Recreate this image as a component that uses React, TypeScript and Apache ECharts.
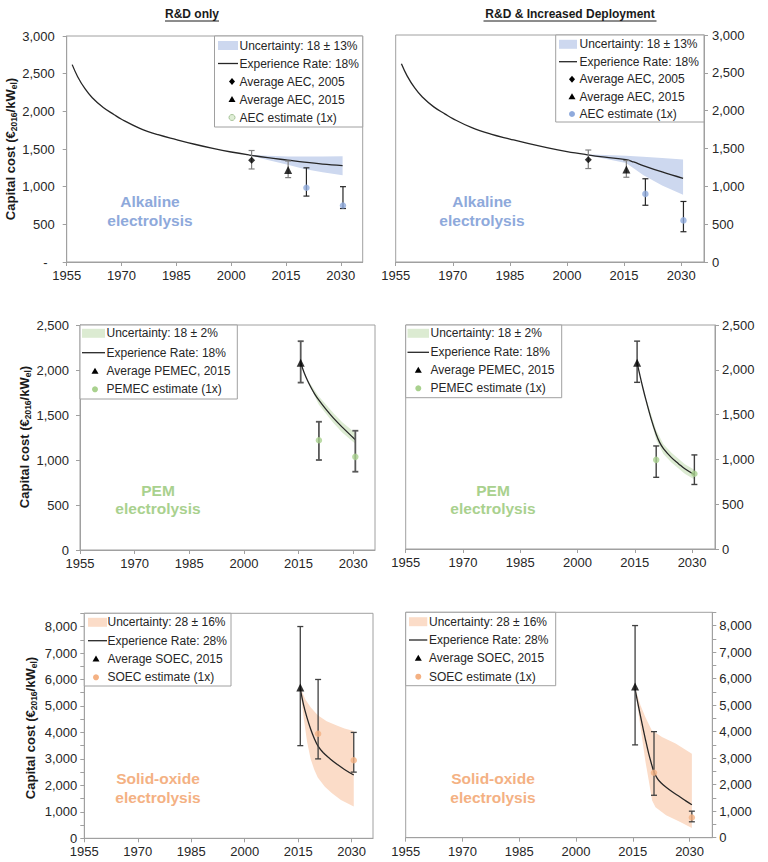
import React, { useEffect, useRef } from "react";
import * as echarts from "echarts";

// ---------- DATA ----------
const xTicks = [1955, 1970, 1985, 2000, 2015, 2030];

// Alkaline, R&D only
const aecRdCurve = [[1956.5, 2620], [1958, 2460], [1960, 2300], [1962, 2180], [1965, 2050], [1968, 1955], [1970, 1895], [1975, 1775], [1980, 1690], [1985, 1625], [1990, 1563], [1995, 1508], [2000, 1460], [2005, 1420], [2010, 1385], [2015.5, 1352], [2020, 1325], [2025, 1300], [2030.5, 1280]];
const aecRdBandUpper = [[2005, 1425], [2010, 1410], [2015.5, 1400], [2020, 1400], [2025, 1400], [2030.5, 1405]];
const aecRdBandLower = [[2005, 1415], [2010, 1355], [2015.5, 1290], [2020, 1235], [2025, 1190], [2030.5, 1150]];
const aecAvg2005 = [[2005.6, 1350]];
const aecAvg2005Err = [[2005.6, 1235, 1480]];
const aecAvg2015 = [[2015.6, 1222]];
const aecAvg2015Err = [[2015.6, 1120, 1340]];
const aecRdEstimate = [[2020.6, 985], [2030.6, 750]];
const aecRdEstimateErr = [[2020.6, 875, 1250], [2030.6, 710, 1000]];

// Alkaline, R&D & increased deployment
const aecDepCurve = [[1956.5, 2620], [1958, 2460], [1960, 2300], [1962, 2180], [1965, 2050], [1968, 1955], [1970, 1895], [1975, 1775], [1980, 1690], [1985, 1625], [1990, 1563], [1995, 1508], [2000, 1460], [2005, 1420], [2010, 1385], [2015.5, 1352], [2017.5, 1322], [2020, 1275], [2025, 1190], [2030.5, 1105]];
const aecDepBandUpper = [[2005, 1425], [2010, 1415], [2015.5, 1405], [2020, 1392], [2025, 1373], [2030.5, 1355]];
const aecDepBandLower = [[2005, 1415], [2010, 1365], [2015.5, 1310], [2017.5, 1240], [2020, 1150], [2025, 1010], [2030.5, 890]];
const aecDepEstimate = [[2020.6, 900], [2030.6, 550]];
const aecDepEstimateErr = [[2020.6, 750, 1100], [2030.6, 400, 800]];

// PEM, R&D only
const pemRdCurve = [[2015.6, 2080], [2016.5, 1975], [2017.5, 1880], [2018.5, 1800], [2019.5, 1730], [2020.6, 1665], [2022.5, 1565], [2024.6, 1465], [2027, 1365], [2030.6, 1225]];
const pemRdBandUpper = [[2017.5, 1890], [2020.6, 1705], [2024.6, 1520], [2027, 1420], [2030.6, 1300]];
const pemRdBandLower = [[2017.5, 1870], [2020.6, 1615], [2024.6, 1410], [2027, 1305], [2030.6, 1180]];
const pemAvg2015 = [[2015.6, 2080]];
const pemAvg2015Err = [[2015.6, 1860, 2320]];
const pemRdEstimate = [[2020.6, 1220], [2030.6, 1035]];
const pemRdEstimateErr = [[2020.6, 1000, 1425], [2030.6, 870, 1325]];

// PEM, R&D & increased deployment
const pemDepCurve = [[2015.6, 2080], [2016.3, 1945], [2017.1, 1800], [2018, 1650], [2019.3, 1450], [2020.6, 1280], [2021.5, 1190], [2022.5, 1120], [2024.6, 1020], [2026.5, 950], [2028.1, 895], [2030.6, 830]];
const pemDepBandUpper = [[2018, 1670], [2020.6, 1325], [2022.5, 1170], [2024.6, 1075], [2028.1, 945], [2030.6, 885]];
const pemDepBandLower = [[2018, 1630], [2020.6, 1220], [2022.5, 1060], [2024.6, 965], [2028.1, 840], [2030.6, 775]];
const pemDepEstimate = [[2020.6, 995], [2030.6, 840]];
const pemDepEstimateErr = [[2020.6, 800, 1150], [2030.6, 720, 1050]];

// SOEC, R&D only
const soecRdCurve = [[2015.6, 5650], [2016.5, 5050], [2017.5, 4550], [2018.5, 4130], [2019.5, 3780], [2020.5, 3500], [2022, 3240], [2024, 3000], [2026, 2790], [2028, 2600], [2030.6, 2390]];
const soecRdBandUpper = [[2015.6, 5700], [2017, 5250], [2018.5, 4950], [2020.5, 4650], [2023, 4420], [2026, 4250], [2028, 4150], [2030.6, 4050]];
const soecRdBandLower = [[2015.6, 5600], [2016.5, 4600], [2017.5, 3650], [2018.5, 3000], [2019.5, 2600], [2020.5, 2300], [2022.5, 1950], [2024.5, 1700], [2027, 1450], [2030.6, 1200]];
const soecAvg2015 = [[2015.6, 5700]];
const soecAvg2015Err = [[2015.6, 3500, 8000]];
const soecRdEstimate = [[2020.6, 3950], [2030.6, 2950]];
const soecRdEstimateErr = [[2020.6, 3000, 6000], [2030.6, 2500, 4000]];

// SOEC, R&D & increased deployment
const soecDepCurve = [[2015.6, 5600], [2016.5, 4950], [2017.4, 4330], [2018.3, 3730], [2019.2, 3170], [2020.1, 2700], [2020.6, 2480], [2021.5, 2230], [2022.5, 2060], [2023.8, 1900], [2025.5, 1720], [2027.4, 1545], [2029, 1390], [2030.6, 1240]];
const soecDepBandUpper = [[2015.6, 5650], [2017, 5000], [2018.3, 4550], [2020, 4050], [2022.7, 3800], [2026.3, 3550], [2030.6, 3170]];
const soecDepBandLower = [[2015.6, 5550], [2016, 5200], [2017.4, 3800], [2018.3, 2900], [2019.2, 2170], [2020.1, 1400], [2021, 1150], [2023.8, 850], [2027.4, 600], [2030.6, 370]];
const soecDepEstimate = [[2020.6, 2450], [2030.6, 760]];
const soecDepEstimateErr = [[2020.6, 1600, 4000], [2030.6, 600, 1000]];

// Texts
const panelTitles = ["R&D only", "R&D & Increased Deployment"];
const aecLegend = ["Uncertainty: 18 ± 13%", "Experience Rate: 18%", "Average AEC, 2005", "Average AEC, 2015", "AEC estimate (1x)"];
const pemLegend = ["Uncertainty: 18 ± 2%", "Experience Rate: 18%", "Average PEMEC, 2015", "PEMEC estimate (1x)"];
const soecLegend = ["Uncertainty: 28 ± 16%", "Experience Rate: 28%", "Average SOEC, 2015", "SOEC estimate (1x)"];
const techAec = ["Alkaline", "electrolysis"];
const techPem = ["PEM", "electrolysis"];
const techSoec = ["Solid-oxide", "electrolysis"];

// ---------- STYLE ----------
const FONT = "'Liberation Sans', Arial, sans-serif";
const AXIS_COLOR = "#a0a0a0";
const TEXT_COLOR = "#262626";
const BLUE_BAND = "#cdd8ef";
const BLUE_PT = "#8faadc";
const BLUE_TXT = "#8ea9db";
const GREEN_BAND = "#dcebd2";
const GREEN_PT = "#a9d18e";
const GREEN_TXT = "#a9d18e";
const ORANGE_BAND = "#fbdcc8";
const ORANGE_PT = "#f4b183";
const ORANGE_TXT = "#f4b183";

const fmtNum = (v: number) => v.toString().replace(/\B(?=(\d{3})+(?!\d))/g, ",");

const panels: any[] = [
  {
    grid: { left: 66.7, top: 36, width: 296, height: 226 }, yMax: 3000, yInt: 500, yMajor: 500, yPos: "left", margin: 12, dashZero: true,
    curve: aecRdCurve, upper: aecRdBandUpper, lower: aecRdBandLower, band: BLUE_BAND,
    avg: [{ pts: aecAvg2005, err: aecAvg2005Err, symbol: "diamond", size: 7 }, { pts: aecAvg2015, err: aecAvg2015Err, symbol: "triangle", size: 8 }],
    avgErrColor: "#808080", est: aecRdEstimate, estErr: aecRdEstimateErr, estColor: BLUE_PT, estErrColor: "#262626", errW: 1.2,
  },
  {
    grid: { left: 395.7, top: 35, width: 308.3, height: 227 }, yMax: 3000, yInt: 500, yMajor: 500, yPos: "right", margin: 8, dashZero: false,
    curve: aecDepCurve, upper: aecDepBandUpper, lower: aecDepBandLower, band: BLUE_BAND,
    avg: [{ pts: aecAvg2005, err: aecAvg2005Err, symbol: "diamond", size: 7 }, { pts: aecAvg2015, err: aecAvg2015Err, symbol: "triangle", size: 8 }],
    avgErrColor: "#808080", est: aecDepEstimate, estErr: aecDepEstimateErr, estColor: BLUE_PT, estErrColor: "#262626", errW: 1.2,
  },
  {
    grid: { left: 80, top: 325, width: 295, height: 225 }, yMax: 2500, yInt: 500, yMajor: 500, yPos: "left", margin: 11, dashZero: false,
    curve: pemRdCurve, upper: pemRdBandUpper, lower: pemRdBandLower, band: GREEN_BAND,
    avg: [{ pts: pemAvg2015, err: pemAvg2015Err, symbol: "triangle", size: 8 }],
    avgErrColor: "#595959", est: pemRdEstimate, estErr: pemRdEstimateErr, estColor: GREEN_PT, estErrColor: "#595959", errW: 1.8,
  },
  {
    grid: { left: 405.7, top: 325, width: 309.3, height: 224 }, yMax: 2500, yInt: 500, yMajor: 500, yPos: "right", margin: 7, dashZero: false,
    curve: pemDepCurve, upper: pemDepBandUpper, lower: pemDepBandLower, band: GREEN_BAND,
    avg: [{ pts: pemAvg2015, err: pemAvg2015Err, symbol: "triangle", size: 8 }],
    avgErrColor: "#404040", est: pemDepEstimate, estErr: pemDepEstimateErr, estColor: GREEN_PT, estErrColor: "#404040", errW: 1.4,
  },
  {
    grid: { left: 84.3, top: 613.3, width: 288.7, height: 225 }, yMax: 8500, yInt: 500, yMajor: 1000, yPos: "left", margin: 7, dashZero: false,
    curve: soecRdCurve, upper: soecRdBandUpper, lower: soecRdBandLower, band: ORANGE_BAND,
    avg: [{ pts: soecAvg2015, err: soecAvg2015Err, symbol: "triangle", size: 8 }],
    avgErrColor: "#404040", est: soecRdEstimate, estErr: soecRdEstimateErr, estColor: ORANGE_PT, estErrColor: "#404040", errW: 1.3,
  },
  {
    grid: { left: 405.7, top: 612.3, width: 306.6, height: 225.4 }, yMax: 8500, yInt: 500, yMajor: 1000, yPos: "right", margin: 7, dashZero: false,
    curve: soecDepCurve, upper: soecDepBandUpper, lower: soecDepBandLower, band: ORANGE_BAND,
    avg: [{ pts: soecAvg2015, err: soecAvg2015Err, symbol: "triangle", size: 8 }],
    avgErrColor: "#404040", est: soecDepEstimate, estErr: soecDepEstimateErr, estColor: ORANGE_PT, estErrColor: "#404040", errW: 1.3,
  },
];

const legends: any[] = [
  { box: [214.5, 36, 362.7, 127], rows: [45.5, 63.5, 81.5, 99.5, 117.5], sw: [218, 238], mx: 232, tx: 239.5, texts: aecLegend,
    kinds: ["band", "line", "diamond", "triangle", "hollow"], band: BLUE_BAND, pt: GREEN_PT },
  { box: [555.7, 35, 704, 122], rows: [44.3, 61.7, 79.3, 96.7, 114], sw: [559, 577], mx: 572, tx: 579.5, texts: aecLegend,
    kinds: ["band", "line", "diamond", "triangle", "circle"], band: BLUE_BAND, pt: BLUE_PT },
  { box: [80, 325, 237.3, 399], rows: [333.3, 352.7, 371.3, 389.3], sw: [82, 105], mx: 95, tx: 106.5, texts: pemLegend,
    kinds: ["band", "line", "triangle", "circle"], band: GREEN_BAND, pt: GREEN_PT },
  { box: [405.7, 325, 561.7, 397.7], rows: [333.3, 352.3, 370.3, 388.3], sw: [407.5, 429], mx: 418.3, tx: 430.5, texts: pemLegend,
    kinds: ["band", "line", "triangle", "circle"], band: GREEN_BAND, pt: GREEN_PT },
  { box: [84.3, 613.3, 231, 686], rows: [622.3, 640.7, 659, 677.3], sw: [88, 107], mx: 96, tx: 107.5, texts: soecLegend,
    kinds: ["band", "line", "triangle", "circle"], band: ORANGE_BAND, pt: ORANGE_PT },
  { box: [405.7, 612.3, 555.7, 685.7], rows: [621.7, 640, 658.3, 676.7], sw: [409, 427.3], mx: 418.3, tx: 429, texts: soecLegend,
    kinds: ["band", "line", "triangle", "circle"], band: ORANGE_BAND, pt: ORANGE_PT },
];

const techLabels: any[] = [
  { lines: techAec, x: 150, y: [201, 220], color: BLUE_TXT },
  { lines: techAec, x: 482, y: [201, 220], color: BLUE_TXT },
  { lines: techPem, x: 158, y: [490, 508], color: GREEN_TXT },
  { lines: techPem, x: 493, y: [490, 508], color: GREEN_TXT },
  { lines: techSoec, x: 158, y: [778, 797], color: ORANGE_TXT },
  { lines: techSoec, x: 493, y: [778, 797], color: ORANGE_TXT },
];

const yTitles = [
  { x: 10, y: 149 },
  { x: 24, y: 437 },
  { x: 30, y: 728 },
];

function errRender(color: string, width: number) {
  return (params: any, api: any) => {
    const x = api.value(0);
    const lo = api.coord([x, api.value(1)]);
    const hi = api.coord([x, api.value(2)]);
    const c = 3;
    const style = { stroke: color, lineWidth: width };
    return {
      type: "group",
      children: [
        { type: "line", shape: { x1: lo[0], y1: lo[1], x2: hi[0], y2: hi[1] }, style },
        { type: "line", shape: { x1: lo[0] - c, y1: lo[1], x2: lo[0] + c, y2: lo[1] }, style },
        { type: "line", shape: { x1: hi[0] - c, y1: hi[1], x2: hi[0] + c, y2: hi[1] }, style },
      ],
    };
  };
}

function bandRender(upper: number[][], lower: number[][], color: string) {
  return (params: any, api: any) => {
    if (params.dataIndex !== 0) return null;
    const up = upper.map((p) => api.coord(p));
    const lo = lower.map((p) => api.coord(p)).reverse();
    return { type: "polygon", shape: { points: [...up, ...lo] }, style: { fill: color } };
  };
}

function buildOption() {
  const grid: any[] = [];
  const xAxis: any[] = [];
  const yAxis: any[] = [];
  const series: any[] = [];
  const graphic: any[] = [];

  panels.forEach((p, i) => {
    grid.push({ ...p.grid, show: true, borderColor: AXIS_COLOR, borderWidth: 1, backgroundColor: "transparent", containLabel: false });
    xAxis.push({
      gridIndex: i, type: "value", min: 1955, max: 2036, interval: 5,
      axisLine: { show: true, onZero: false, lineStyle: { color: AXIS_COLOR, width: 1 } },
      axisTick: { show: true, length: 4, customValues: xTicks, lineStyle: { color: AXIS_COLOR } },
      axisLabel: {
        customValues: xTicks, color: TEXT_COLOR, fontSize: 13, fontFamily: FONT, margin: 7,
        formatter: (v: number) => (xTicks.indexOf(v) >= 0 ? String(v) : ""),
      },
      splitLine: { show: false },
    });
    yAxis.push({
      gridIndex: i, type: "value", min: 0, max: p.yMax, interval: p.yInt, position: p.yPos,
      axisLine: { show: true, lineStyle: { color: AXIS_COLOR, width: 1 } },
      axisTick: { show: true, length: 4, lineStyle: { color: AXIS_COLOR } },
      axisLabel: {
        color: TEXT_COLOR, fontSize: 13, fontFamily: FONT, margin: p.margin,
        formatter: (v: number) => {
          if (v % p.yMajor !== 0 || v > p.yMax) return "";
          if (v === 0 && p.dashZero) return "{d|-}";
          return fmtNum(v);
        },
        rich: { d: { padding: [0, 7, 0, 0], fontSize: 13, color: TEXT_COLOR, fontFamily: FONT } },
      },
      splitLine: { show: false },
    });

    series.push({
      type: "custom", xAxisIndex: i, yAxisIndex: i, z: 1, silent: true,
      renderItem: bandRender(p.upper, p.lower, p.band),
      data: [p.upper[0]], encode: { x: 0, y: 1 },
    });
    series.push({
      type: "line", xAxisIndex: i, yAxisIndex: i, z: 3, data: p.curve, showSymbol: false, symbol: "none",
      smooth: 0.4, lineStyle: { color: "#262626", width: 1.3 },
    });
    p.avg.forEach((a: any) => {
      series.push({
        type: "custom", xAxisIndex: i, yAxisIndex: i, z: 4, renderItem: errRender(p.avgErrColor, p.errW),
        data: a.err, encode: { x: 0, y: [1, 2] },
      });
    });
    series.push({
      type: "custom", xAxisIndex: i, yAxisIndex: i, z: 4, renderItem: errRender(p.estErrColor, p.errW),
      data: p.estErr, encode: { x: 0, y: [1, 2] },
    });
    p.avg.forEach((a: any) => {
      series.push({
        type: "scatter", xAxisIndex: i, yAxisIndex: i, z: 5, data: a.pts, symbol: a.symbol, symbolSize: a.size,
        itemStyle: { color: "#000" },
      });
    });
    series.push({
      type: "scatter", xAxisIndex: i, yAxisIndex: i, z: 5, data: p.est, symbol: "circle", symbolSize: 6.5,
      itemStyle: { color: p.estColor },
    });
  });

  // Titles
  const titlePos = [{ x: 192, y: 14, w: 54 }, { x: 570, y: 14, w: 173 }];
  panelTitles.forEach((t, i) => {
    const tp = titlePos[i];
    graphic.push({
      type: "text", x: tp.x, y: tp.y, z: 10,
      style: { text: t, fontSize: 12, fontWeight: "bold", fontFamily: FONT, fill: "#1a1a1a", align: "center", verticalAlign: "middle" },
    });
    graphic.push({
      type: "line", z: 10, shape: { x1: tp.x - tp.w / 2, y1: tp.y + 7, x2: tp.x + tp.w / 2, y2: tp.y + 7 },
      style: { stroke: "#1a1a1a", lineWidth: 1 },
    });
  });

  // Y titles
  yTitles.forEach((yt) => {
    graphic.push({
      type: "text", x: yt.x, y: yt.y, rotation: Math.PI / 2, z: 10,
      style: {
        text: "{a|Capital cost (€}{s|2016}{a|/kW}{s|el}{a|)}",
        align: "center", verticalAlign: "middle",
        rich: {
          a: { fontSize: 13, fontWeight: "bold", fontFamily: FONT, fill: "#1a1a1a", lineHeight: 16 },
          s: { fontSize: 8.5, fontWeight: "bold", fontFamily: FONT, fill: "#1a1a1a", lineHeight: 16, verticalAlign: "bottom", padding: [5, 0, 0, 0] },
        },
      },
    });
  });

  // Tech labels
  techLabels.forEach((tl) => {
    tl.lines.forEach((ln: string, k: number) => {
      graphic.push({
        type: "text", x: tl.x, y: tl.y[k], z: 6,
        style: { text: ln, fontSize: 15.5, fontWeight: "bold", fontFamily: FONT, fill: tl.color, align: "center", verticalAlign: "middle" },
      });
    });
  });

  // Legends
  legends.forEach((lg) => {
    const [x0, y0, x1, y1] = lg.box;
    graphic.push({
      type: "rect", z: 20, shape: { x: x0, y: y0, width: x1 - x0, height: y1 - y0 },
      style: { fill: "#fff", stroke: AXIS_COLOR, lineWidth: 1 },
    });
    lg.kinds.forEach((k: string, j: number) => {
      const y = lg.rows[j];
      const m = lg.mx;
      if (k === "band") {
        graphic.push({ type: "rect", z: 21, shape: { x: lg.sw[0], y: y - 4.5, width: lg.sw[1] - lg.sw[0], height: 9 }, style: { fill: lg.band } });
      } else if (k === "line") {
        graphic.push({ type: "line", z: 21, shape: { x1: lg.sw[0], y1: y, x2: lg.sw[1], y2: y }, style: { stroke: "#262626", lineWidth: 1.3 } });
      } else if (k === "diamond") {
        graphic.push({ type: "polygon", z: 21, shape: { points: [[m, y - 3.5], [m + 3, y], [m, y + 3.5], [m - 3, y]] }, style: { fill: "#000" } });
      } else if (k === "triangle") {
        graphic.push({ type: "polygon", z: 21, shape: { points: [[m, y - 3.5], [m + 3.5, y + 2.5], [m - 3.5, y + 2.5]] }, style: { fill: "#000" } });
      } else if (k === "circle") {
        graphic.push({ type: "circle", z: 21, shape: { cx: m, cy: y, r: 3 }, style: { fill: lg.pt } });
      } else if (k === "hollow") {
        graphic.push({ type: "circle", z: 21, shape: { cx: m, cy: y, r: 3 }, style: { fill: "#dfeed6", stroke: "#a8c49a", lineWidth: 1 } });
      }
      graphic.push({
        type: "text", z: 21, x: lg.tx, y: y,
        style: { text: lg.texts[j], fontSize: 12, fontFamily: FONT, fill: TEXT_COLOR, align: "left", verticalAlign: "middle" },
      });
    });
  });

  return {
    animation: false,
    backgroundColor: "#fff",
    textStyle: { fontFamily: FONT },
    grid, xAxis, yAxis, series, graphic,
  };
}

export default function App() {
  const ref = useRef<HTMLDivElement>(null);
  useEffect(() => {
    document.body.style.margin = "0";
    if (!ref.current) return;
    const chart = echarts.init(ref.current, null, { renderer: "svg" });
    chart.setOption(buildOption() as any);
    return () => chart.dispose();
  }, []);
  return <div ref={ref} style={{ width: 768, height: 862 }} />;
}
